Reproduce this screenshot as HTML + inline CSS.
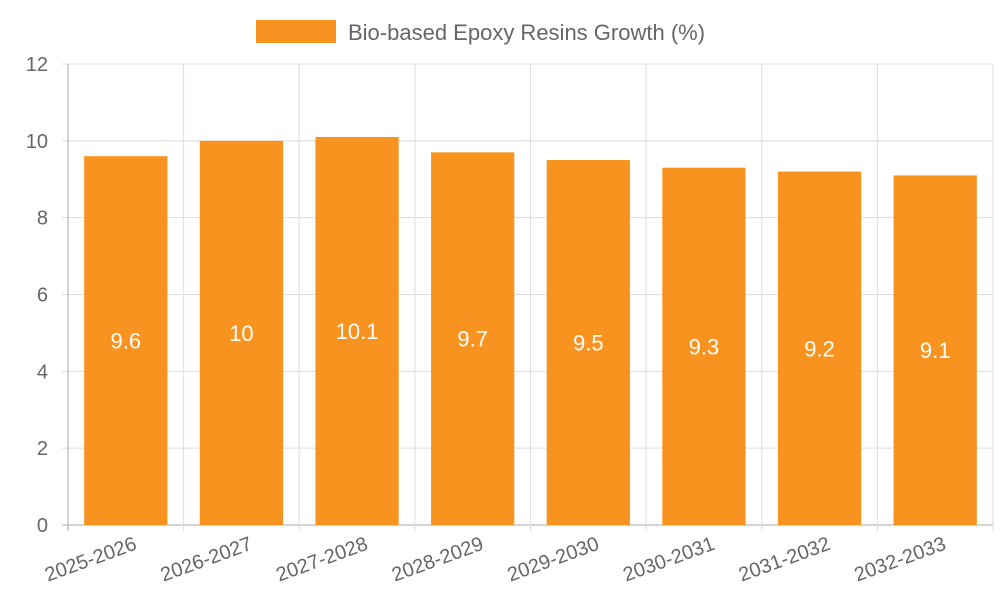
<!DOCTYPE html>
<html><head><meta charset="utf-8"><style>
body{margin:0;background:#fff;}
svg{display:block;font-family:"Liberation Sans",sans-serif;}
</style></head><body>
<svg id="chart" width="1000" height="600">
<g id="legend">
<rect x="256" y="20" width="80" height="23" fill="#F7931E"/>
<text x="348" y="40" font-size="22" fill="#666">Bio-based Epoxy Resins Growth (%)</text>
</g>
<g id="grid"></g><g id="bars"></g><g id="labels"></g>
</svg>
<script>
const categories=["2025-2026","2026-2027","2027-2028","2028-2029","2029-2030","2030-2031","2031-2032","2032-2033"];
const values=[9.6,10,10.1,9.7,9.5,9.3,9.2,9.1];
const yTicks=[0,2,4,6,8,10,12];
const L=68,R=993,T=64,B=525,yMax=12;
const step=(R-L)/categories.length;
const x=i=>L+i*step;
const y=v=>B-(v/yMax)*(B-T);
const NS="http://www.w3.org/2000/svg";
function mk(tag,attrs,parent){const e=document.createElementNS(NS,tag);for(const k in attrs)e.setAttribute(k,attrs[k]);document.getElementById(parent).appendChild(e);return e;}
yTicks.forEach(t=>{
 const l=mk("line",{x1:L-6,x2:R,y1:y(t),y2:y(t),stroke:t===0?"#aaa":"#ddd","stroke-width":1},"grid");
 
 
 const tx=mk("text",{x:L-20,y:y(t)+7,"text-anchor":"end","font-size":20,fill:"#666"},"grid");
 tx.textContent=t;
 
 
});
for(let i=0;i<=categories.length;i++){
 const l=mk("line",{x1:x(i),x2:x(i),y1:T,y2:B+6,stroke:i===0?"#aaa":"#ddd","stroke-width":1},"grid");
 
 
}
categories.forEach((c,i)=>{
 const bw=step*0.72,cx=x(i)+step/2;
 const r=mk("rect",{x:cx-bw/2,y:y(values[i]),width:bw,height:B-y(values[i]),fill:"#F7931E"},"bars");
 
 
 const v=mk("text",{x:cx,y:(y(values[i])+B)/2+8,"text-anchor":"middle","font-size":22,fill:"#fff"},"labels");
 v.textContent=values[i];
 
 
 const xl=mk("text",{x:0,y:0,"text-anchor":"end","font-size":20,fill:"#666",transform:`translate(${cx+12},${B+24}) rotate(-20)`},"labels");
 xl.textContent=c;
 
 
});
</script>
</body></html>
